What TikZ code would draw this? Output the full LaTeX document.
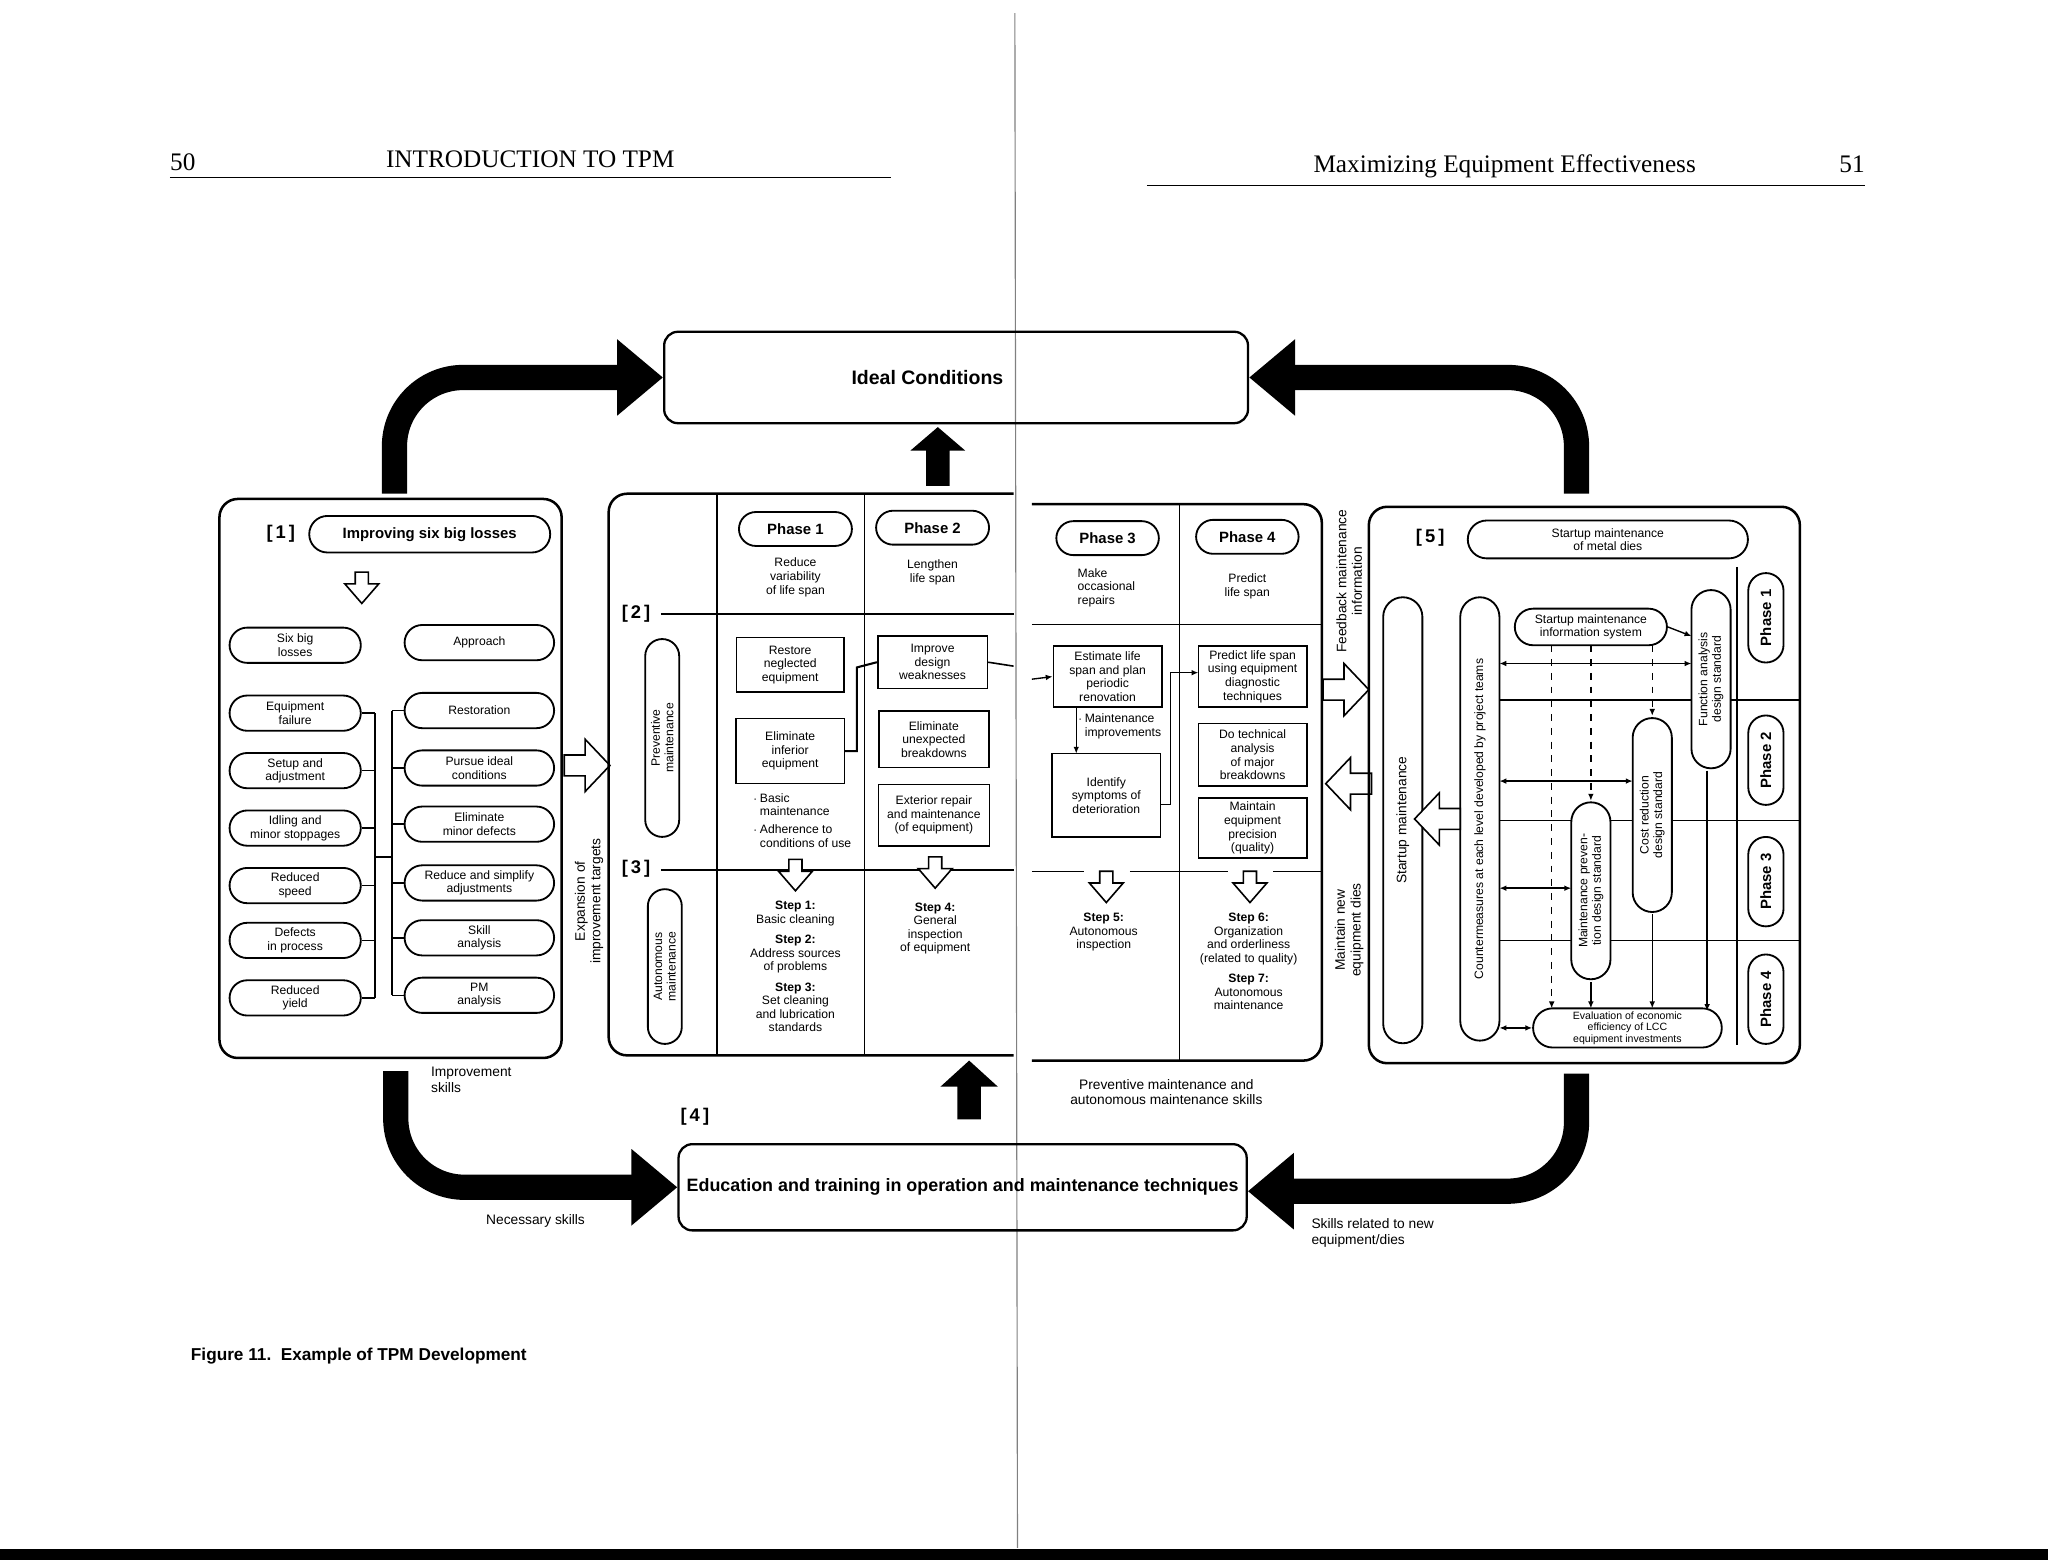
\documentclass[tikz,border=0pt]{standalone}
\usepackage{fontspec}
\setmainfont{Liberation Serif}
\newfontfamily\hv{Liberation Sans}
\usetikzlibrary{shapes.misc,arrows.meta}
\begin{document}
\begin{tikzpicture}[x=0.02cm,y=-0.02cm,
 sm/.style={font=\hv\fontsize{5.3}{5.9}\selectfont,align=center,inner sep=1pt},
 pill/.style={draw,fill=white,rounded rectangle,line width=0.8pt,sm,minimum height=15pt,inner sep=1pt},
 vpill/.style={pill,rotate=90},
 bx/.style={draw,fill=white,line width=0.7pt,sm,inner sep=1pt},
 frame/.style={draw,line width=1.1pt,rounded corners=8pt},
 big/.style={line width=11pt,rounded corners=30,-{Triangle[length=20pt,width=32pt]}},
 ph/.style={pill,font=\hv\bfseries\fontsize{6.5}{7}\selectfont},
 hd/.pic={\draw[fill=white,line width=0.7pt] (-5,0)--(5,0)--(5,9)--(13,9)--(0,24)--(-13,9)--(-5,9)--cycle;},
 hr/.pic={\draw[fill=white,line width=0.7pt] (0,-8)--(0,8)--(16,8)--(16,20)--(35,0)--(16,-20)--(16,-8)--cycle;},
 hl/.pic={\draw[fill=white,line width=0.7pt] (0,-8)--(0,8)--(-16,8)--(-16,20)--(-35,0)--(-16,-20)--(-16,-8)--cycle;},
 ar/.style={-{Latex[length=3pt,width=2.5pt]},line width=0.6pt},
 lbl/.style={sm,font=\hv\fontsize{6}{6.8}\selectfont}]
\useasboundingbox (0,0) rectangle (1568,1194);
% page furniture
\node[font=\fontsize{11}{12}\selectfont] (p50) at (140,124) {50};
\node[font=\fontsize{11}{12}\selectfont] (h1) at (406,122) {INTRODUCTION TO TPM};
\draw[line width=0.6pt] (130,136)--(682,136);
\node[font=\fontsize{11}{12}\selectfont] (h2) at (1152,127) {Maximizing Equipment Effectiveness};
\node[font=\fontsize{11}{12}\selectfont] (p51) at (1418,126) {51};
\draw[line width=0.6pt] (878,142)--(1428,142);
\draw[line width=0.5pt,gray] (777,10)--(779,1185);
\fill (0,1186) rectangle (1568,1194);
% ideal conditions & education
\node[draw,line width=1pt,rounded corners=6pt,minimum width=447*0.02cm,minimum height=70*0.02cm,font=\hv\bfseries\fontsize{8.5}{9}\selectfont] (ideal) at (732,289) {\hspace{-25pt}Ideal Conditions};
\node[draw,line width=1pt,rounded corners=6pt,minimum width=435*0.02cm,minimum height=66*0.02cm,font=\hv\bfseries\fontsize{7.8}{9}\selectfont] (edu) at (737,909) {Education and training in operation and maintenance techniques};
\node[font=\hv\bfseries\fontsize{8}{9}\selectfont] (n4) at (532,855) {[\,4\,]};
% big arrows
\coordinate (a1) at (302,378); \coordinate (a2) at (1207,378);
\coordinate (a3) at (303,820); \coordinate (a4) at (1207,822);
\draw[big] (a1) |- (ideal.west);
\draw[big] (a2) |- (ideal.east);
\draw[big] (a3) |- (edu.west);
\draw[big] (a4) |- ([yshift=-3*0.02cm]edu.east);
\fill (709,345)--(709,372)--(727,372)--(727,345)--(739,345)--(718,327)--(697,345)--cycle;
\fill (733,832)--(733,857)--(751,857)--(751,832)--(764,832)--(742,812)--(720,832)--cycle;
\node[lbl,align=left,anchor=north west] (t1) at (328,815) {Improvement\\skills};
\node[lbl] (t2) at (410,935) {Necessary skills};
\node[lbl] (t3) at (893,836) {Preventive maintenance and\\autonomous maintenance skills};
\node[lbl,align=left,anchor=north west] (t4) at (1002,931) {Skills related to new\\equipment/dies};
\node[font=\hv\bfseries\fontsize{7.5}{9}\selectfont,anchor=west] (fig) at (140,1038) {Figure 11.\ \ Example of TPM Development};
% ===== box 1
\draw[frame] (168,382) rectangle (430,810);
\node[font=\hv\bfseries\fontsize{8}{9}\selectfont] (n1) at (215,409) {[\,1\,]};
\node[pill,minimum width=188*0.02cm,minimum height=28*0.02cm,font=\hv\bfseries\fontsize{6.5}{7}\selectfont] (imp) at (329,409) {Improving six big losses};
\pic at (277,438) {hd};
\foreach \n/\y/\t in {L0/494/Six big\\losses,L1/546/Equipment\\failure,L2/590/Setup and\\adjustment,L3/634/Idling and\\minor stoppages,L4/678/Reduced\\speed,L5/720/Defects\\in process,L6/764/Reduced\\yield}
 \node[pill,minimum width=104*0.02cm,minimum height=27*0.02cm] (\n) at (226,\y) {\t};
\foreach \n/\y/\t in {R0/492/Approach,R1/544/Restoration,R2/588/Pursue ideal\\conditions,R3/631/Eliminate\\minor defects,R4/676/Reduce and simplify\\adjustments,R5/718/Skill\\analysis,R6/762/PM\\analysis}
 \node[pill,minimum width=118*0.02cm,minimum height=27*0.02cm] (\n) at (367,\y) {\t};
\foreach \n in {L1,L2,L3,L4,L5,L6} \draw[line width=0.6pt] (\n.east) -- (287,0|-\n.east);
\foreach \n in {R1,R2,R3,R4,R5,R6} \draw[line width=0.6pt] (\n.west) -- (300,0|-\n.west);
\draw[line width=0.6pt] (287,546)--(287,764) (300,544)--(300,762) (287,656)--(300,656);
\pic at (432,586) {hr};
\node[lbl,rotate=90] (exp) at (451,690) {Expansion of\\improvement targets};
% ===== box 2/3
\draw[line width=1.1pt,rounded corners=8pt] (776,378) -- (466,378) -- (466,808) -- (776,808);
\draw[line width=0.7pt] (549,378)--(549,808) (662,378)--(662,808);
\draw[line width=0.6pt] (506,470)--(776,470) (506,666)--(776,666);
\node[fill=white,font=\hv\bfseries\fontsize{8}{9}\selectfont] (n2) at (487,470) {[\,2\,]};
\node[fill=white,font=\hv\bfseries\fontsize{8}{9}\selectfont] (n3) at (487,665) {[\,3\,]};
\node[vpill,minimum width=155*0.02cm,minimum height=26*0.02cm] (pm) at (507,565) {Preventive\\maintenance};
\node[vpill,minimum width=122*0.02cm,minimum height=26*0.02cm] (am) at (509,740) {Autonomous\\maintenance};
\node[ph,minimum width=90*0.02cm,minimum height=26*0.02cm] (P1) at (609,405) {Phase 1};
\node[ph,minimum width=90*0.02cm,minimum height=26*0.02cm] (P2) at (714,404) {Phase 2};
\node[sm] (d1) at (609,442) {Reduce\\variability\\of life span};
\node[sm] (d2) at (714,438) {Lengthen\\life span};
\node[bx,minimum width=82*0.02cm,minimum height=42*0.02cm] (b11) at (605,509) {Restore\\neglected\\equipment};
\node[bx,minimum width=83*0.02cm,minimum height=50*0.02cm] (b12) at (605,575) {Eliminate\\inferior\\equipment};
\node[bx,minimum width=84*0.02cm,minimum height=40*0.02cm] (b21) at (714,507) {Improve\\design\\weaknesses};
\node[bx,minimum width=84*0.02cm,minimum height=43*0.02cm] (b22) at (715,566) {Eliminate\\unexpected\\breakdowns};
\node[bx,minimum width=85*0.02cm,minimum height=47*0.02cm] (b23) at (715,624) {Exterior repair\\and maintenance\\(of equipment)};
\node[sm,align=left] (bul) at (614,628) {$\cdot$\,Basic\\\phantom{$\cdot$\,}maintenance\\[2pt]$\cdot$\,Adherence to\\\phantom{$\cdot$\,}conditions of use};
\draw[line width=0.9pt] (b12.east) -| (656,511) -- (b21.west);
\coordinate (gapR) at (776,510);
\draw[line width=0.7pt] (b21.east) -- (gapR);
\pic at (609,658) {hd}; \pic at (716,656) {hd};
\node[sm] (s13) at (609,740) {\textbf{Step 1:}\\Basic cleaning\\[3pt]\textbf{Step 2:}\\Address sources\\of problems\\[3pt]\textbf{Step 3:}\\Set cleaning\\and lubrication\\standards};
\node[sm,anchor=north] (s4) at (716,689) {\textbf{Step 4:}\\General\\inspection\\of equipment};
% ===== box 3/4
\draw[line width=1.1pt,rounded corners=8pt] (790,386) -- (1012,386) -- (1012,812) -- (790,812);
\draw[line width=0.7pt] (903,386)--(903,812);
\draw[line width=0.6pt] (790,478)--(1012,478);
\draw[line width=0.6pt] (790,667)--(830,667) (865,667)--(940,667) (975,667)--(1012,667);
\node[ph,minimum width=82*0.02cm,minimum height=26*0.02cm] (P3) at (848,412) {Phase 3};
\node[ph,minimum width=82*0.02cm,minimum height=26*0.02cm] (P4) at (955,411) {Phase 4};
\node[sm,align=left,anchor=west] (d3) at (823,450) {Make\\occasional\\repairs};
\node[sm] (d4) at (955,449) {Predict\\life span};
\node[bx,minimum width=83*0.02cm,minimum height=47*0.02cm] (b31) at (848,518) {Estimate life\\span and plan\\periodic\\renovation};
\node[bx,minimum width=83*0.02cm,minimum height=64*0.02cm] (b32) at (847,609) {Identify\\symptoms of\\deterioration};
\node[bx,minimum width=83*0.02cm,minimum height=47*0.02cm] (b41) at (959,518) {Predict life span\\using equipment\\diagnostic\\techniques};
\node[bx,minimum width=83*0.02cm,minimum height=48*0.02cm] (b42) at (959,578) {Do technical\\analysis\\of major\\breakdowns};
\node[bx,minimum width=83*0.02cm,minimum height=46*0.02cm] (b43) at (959,634) {Maintain\\equipment\\precision\\(quality)};
\node[sm,align=left] (mi) at (857,556) {$\cdot$\,Maintenance\\\phantom{$\cdot$\,}improvements};
\draw[ar] (790,520) -- (b31.west);
\draw[ar] (824,541.5) -- (824,577);
\draw[ar] (b32.east|-0,616) -- (896,616) -- (896,515) -- (917.5,515);
\pic at (847,667) {hd}; \pic at (957,667) {hd};
\node[sm,anchor=north] (s5) at (845,697) {\textbf{Step 5:}\\Autonomous\\inspection};
\node[sm,anchor=north] (s67) at (956,697) {\textbf{Step 6:}\\Organization\\and orderliness\\(related to quality)\\[3pt]\textbf{Step 7:}\\Autonomous\\maintenance};
\pic at (1013,528) {hr};
\pic at (1050,600) {hl};
\node[lbl,rotate=90] (fb) at (1033,445) {Feedback maintenance\\information};
\node[lbl,rotate=90] (mn) at (1033,712) {Maintain new\\equipment dies};
% ===== box 5
\draw[frame] (1048,388) rectangle (1378,814);
\node[font=\hv\bfseries\fontsize{8}{9}\selectfont] (n5) at (1095,412) {[\,5\,]};
\node[pill,minimum width=218*0.02cm,minimum height=29*0.02cm] (smd) at (1231,413) {Startup maintenance\\of metal dies};
\draw[line width=0.6pt] (1330,434)--(1330,800);
\draw[line width=0.6pt] (1148,536)--(1378,536) (1148,628)--(1378,628) (1148,720)--(1378,720);
\foreach \n/\y/\t in {Q1/473/Phase 1,Q2/582/Phase 2,Q3/675/Phase 3,Q4/765/Phase 4}
 \node[ph,rotate=90,minimum width=72*0.02cm,minimum height=27*0.02cm] (\n) at (1352,\y) {\t};
\node[vpill,minimum width=345*0.02cm,minimum height=30*0.02cm,font=\hv\fontsize{6}{7}\selectfont] (sm5) at (1074,628) {Startup maintenance};
\node[vpill,minimum width=343*0.02cm,minimum height=30*0.02cm] (cm) at (1133,627) {Countermeasures at each level developed by project teams};
\pic at (1118,627) {hl};
\draw[ar,dashed] (1188,494) -- (1188,772);
\draw[ar,dashed] (1218,494) -- (1218,613);
\draw[ar,dashed] (1265,494) -- (1265,548);
\draw[ar] (1218,752) -- (1218,772);
\draw[ar] (1265,700) -- (1265,772);
\draw[ar] (1307,590) -- (1307,774);
\node[pill,minimum width=120*0.02cm,minimum height=28*0.02cm] (sis) at (1218,480) {Startup maintenance\\information system};
\node[vpill,minimum width=140*0.02cm,minimum height=30*0.02cm] (fa) at (1310,520) {Function analysis\\design standard};
\node[vpill,minimum width=152*0.02cm,minimum height=30*0.02cm] (cr) at (1265,624) {Cost reduction\\design standard};
\node[vpill,minimum width=139*0.02cm,minimum height=30*0.02cm] (mp) at (1218,682) {Maintenance preven-\\tion design standard};
\node[pill,minimum width=148*0.02cm,minimum height=30*0.02cm,font=\hv\fontsize{4.6}{5}\selectfont] (ev) at (1246,787) {Evaluation of economic\\efficiency of LCC\\equipment investments};
\draw[ar] (sis.east) -- (1295,487);
\draw[ar,{Latex[length=3pt,width=2.5pt]}-{Latex[length=3pt,width=2.5pt]}] (1148,508) -- (1295,508);
\draw[ar,{Latex[length=3pt,width=2.5pt]}-{Latex[length=3pt,width=2.5pt]}] (1148,598) -- (1250,598);
\draw[ar,{Latex[length=3pt,width=2.5pt]}-{Latex[length=3pt,width=2.5pt]}] (1148,680) -- (1203,680);
\draw[ar,{Latex[length=3pt,width=2.5pt]}-{Latex[length=3pt,width=2.5pt]}] (1148,787) -- (ev.west);
\end{tikzpicture}
\end{document}
